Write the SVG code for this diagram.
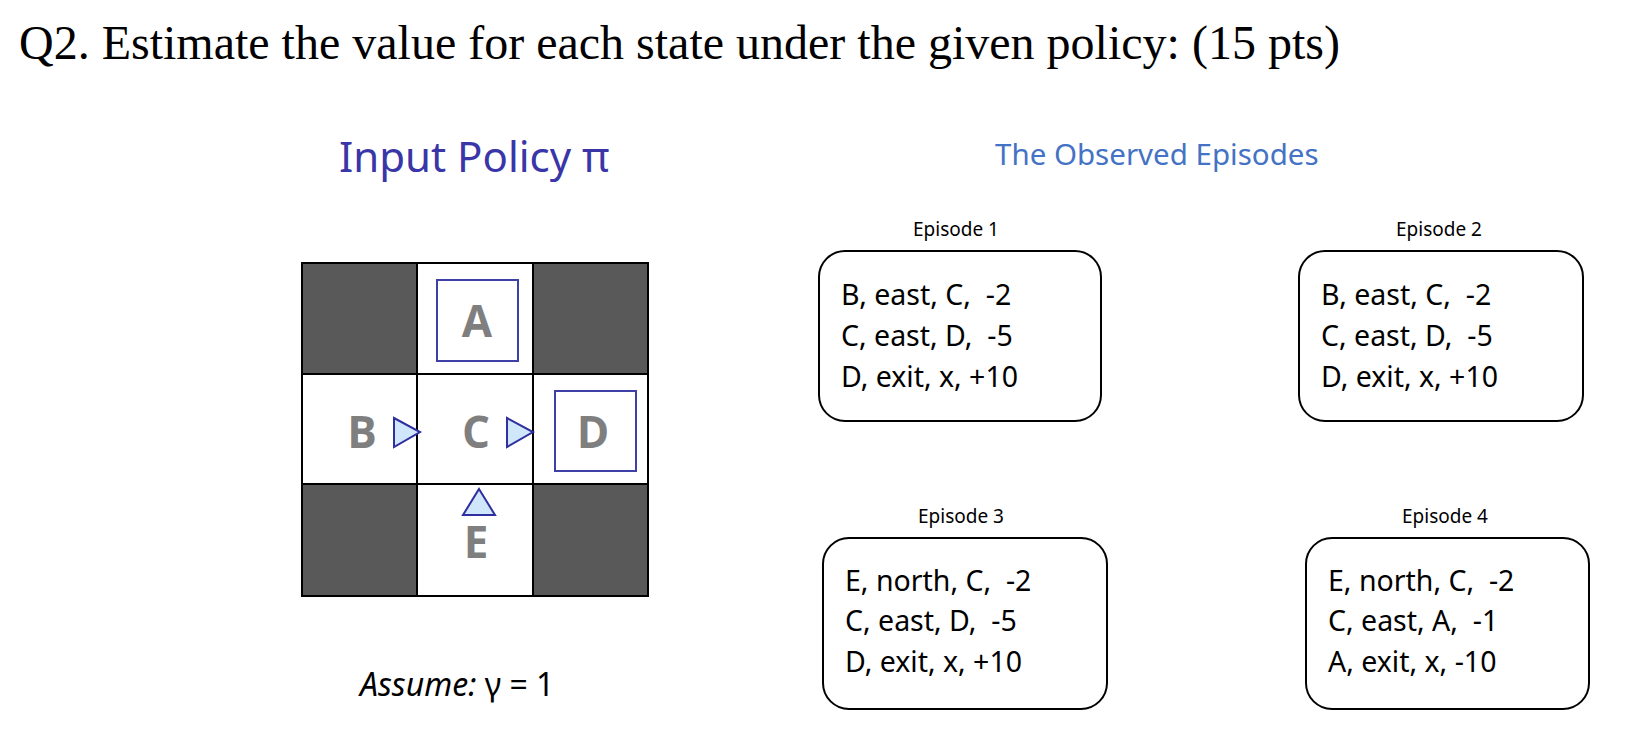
<svg xmlns="http://www.w3.org/2000/svg" width="1626" height="732" viewBox="0 0 1626 732">
<style>
.ep{font-family:"Noto Sans","Open Sans",sans-serif;font-size:28.5px;fill:#000;white-space:pre}
.lbl{font-family:"Noto Sans","Open Sans",sans-serif;font-size:19px;fill:#000;text-anchor:middle}
.box{fill:#fff;stroke:#000;stroke-width:2}
.dark{fill:#595959;stroke:#000;stroke-width:2}
.light{fill:#fff;stroke:#000;stroke-width:2}
.st{font-family:"Open Sans","Noto Sans",sans-serif;font-weight:bold;font-size:44px;fill:#7f7f7f;text-anchor:middle}
.term{fill:none;stroke:#3f3fa8;stroke-width:2}
.tri{fill:#cfe6fb;stroke:#2f2f9f;stroke-width:2}
</style>
<rect width="1626" height="732" fill="#fff"/>
<text x="19" y="59" font-family="Liberation Serif,serif" font-size="48">Q2. Estimate the value for each state under the given policy: (15 pts)</text>
<text x="339" y="172" font-family="Noto Sans,sans-serif" font-size="42" fill="#3a36a8">Input Policy π</text>
<text x="995" y="165" font-family="Noto Sans,sans-serif" font-size="29.5" fill="#4472c4">The Observed Episodes</text>
<g id="grid">
<rect class="dark" x="302" y="263" width="115" height="111"/>
<rect class="light" x="417" y="263" width="116" height="111"/>
<rect class="dark" x="533" y="263" width="115" height="111"/>
<rect class="light" x="302" y="374" width="115" height="110"/>
<rect class="light" x="417" y="374" width="116" height="110"/>
<rect class="light" x="533" y="374" width="115" height="110"/>
<rect class="dark" x="302" y="484" width="115" height="112"/>
<rect class="light" x="417" y="484" width="116" height="112"/>
<rect class="dark" x="533" y="484" width="115" height="112"/>
</g>
<g id="A"><rect class="term" x="437" y="280" width="81" height="81"/><text class="st" x="477" y="337">A</text></g>
<g id="B"><text class="st" x="362" y="448">B</text><polygon class="tri" points="394,418 420,432 394,447"/></g>
<g id="C"><text class="st" x="476" y="448">C</text><polygon class="tri" points="507,418 533,432 507,447"/></g>
<g id="D"><rect class="term" x="555" y="391" width="81" height="80"/><text class="st" x="593" y="448">D</text></g>
<g id="E"><polygon class="tri" points="479,489 495,515 463,515"/><text class="st" x="476" y="558">E</text></g>
<text x="360" y="696" font-family="Noto Sans,sans-serif" font-size="32"><tspan font-style="italic">Assume:</tspan> γ = 1</text>
<g id="ep1"><text class="lbl" x="956" y="236">Episode 1</text><rect class="box" x="819" y="251" width="282" height="170" rx="26"/>
<text class="ep" x="841" y="305">B, east, C,  -2</text><text class="ep" x="841" y="346">C, east, D,  -5</text><text class="ep" x="841" y="387">D, exit, x, +10</text></g>
<g id="ep2"><text class="lbl" x="1439" y="236">Episode 2</text><rect class="box" x="1299" y="251" width="284" height="170" rx="26"/>
<text class="ep" x="1321" y="305">B, east, C,  -2</text><text class="ep" x="1321" y="346">C, east, D,  -5</text><text class="ep" x="1321" y="387">D, exit, x, +10</text></g>
<g id="ep3"><text class="lbl" x="961" y="523">Episode 3</text><rect class="box" x="823" y="538" width="284" height="171" rx="26"/>
<text class="ep" x="845" y="591">E, north, C,  -2</text><text class="ep" x="845" y="631">C, east, D,  -5</text><text class="ep" x="845" y="672">D, exit, x, +10</text></g>
<g id="ep4"><text class="lbl" x="1445" y="523">Episode 4</text><rect class="box" x="1306" y="538" width="283" height="171" rx="26"/>
<text class="ep" x="1328" y="591">E, north, C,  -2</text><text class="ep" x="1328" y="631">C, east, A,  -1</text><text class="ep" x="1328" y="672">A, exit, x, -10</text></g>
<g id="connectors"/>
</svg>
